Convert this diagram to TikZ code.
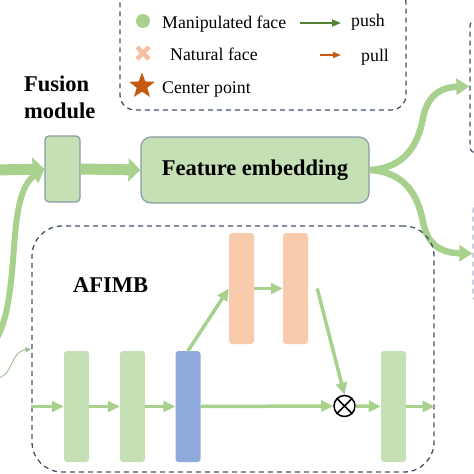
\documentclass[tikz,border=0pt]{standalone}
\usepackage{fontspec}
\setmainfont{Liberation Serif}
\usetikzlibrary{arrows.meta,shapes.geometric}
\definecolor{lgreen}{HTML}{A9D18E}
\definecolor{bgreen}{HTML}{C5E0B4}
\definecolor{bborder}{HTML}{8A9AA8}
\definecolor{bblue}{HTML}{8FAADC}
\definecolor{borange}{HTML}{F8CBAD}
\definecolor{xorange}{HTML}{F5BE9F}
\definecolor{dashblue}{HTML}{44546A}
\definecolor{paleblue}{HTML}{ADB9CA}
\definecolor{dgreen}{HTML}{548235}
\definecolor{porange}{HTML}{C55A11}
\begin{document}
\begin{tikzpicture}[x=1pt,y=-1pt,
  blk/.style={rounded corners=3pt, minimum width=25pt, minimum height=111pt, inner sep=0pt},
  flow/.style={draw=lgreen, line width=3.5pt, -{Triangle[length=12pt,width=11pt]}},
  fat/.style={draw=lgreen, line width=11pt, -{Triangle[length=12pt,width=23pt]}},
  branch/.style={draw=lgreen, line width=6.5pt, -{Triangle[length=13pt,width=16pt]}},
  frame/.style={draw=dashblue, line width=1.3pt, dash pattern=on 5pt off 4pt, inner sep=0pt},
  lab/.style={inner sep=0pt, anchor=base west, font=\fontsize{17.8}{20}\selectfont},
  big/.style={font=\bfseries\fontsize{22.5}{27}\selectfont}]
      \path[use as bounding box, clip] (0,0) rectangle (474,474);
      % legend
      \node[frame, rounded corners=15pt, minimum width=286pt, minimum height=122pt] (leg) at (263,49) {};
      \fill[lgreen] (143,21) circle (7);
      \draw[xorange, line width=4.5pt] (137,47) -- (149,59) (137,59) -- (149,47);
      \node[star, star points=5, star point ratio=2.4, fill=porange, minimum size=27pt, inner sep=0pt] (st) at (142,86) {};
      \node[lab] (mf) at (162,28) {Manipulated face};
      \node[lab] (nf) at (170,60) {Natural face};
      \node[lab] (cp) at (162,93) {Center point};
      \node[lab] (ps) at (351,26) {push};
      \node[lab] (pl) at (361,61) {pull};
      \draw[dgreen, line width=1.8pt, -{Triangle[length=9pt,width=7pt]}] (300,23) -- (341,23);
      \draw[porange, line width=1.5pt, -{Triangle[length=8pt,width=6pt]}] (320,55) -- (341,55);
      % fusion and embedding
      \node[big, inner sep=0pt, anchor=north west, align=left] (fl) at (24,75.5) {Fusion\\module};
      \node[draw=bborder, fill=bgreen, rounded corners=4pt, line width=1.2pt, minimum width=35pt, minimum height=66pt] (fus) at (62.5,169) {};
      \node[big, draw=bborder, fill=bgreen, rounded corners=10pt, line width=1.2pt, minimum width=228pt, minimum height=66pt] (emb) at (255,170) {Feature embedding};
      \node[frame, rounded corners=6pt, minimum width=60pt, minimum height=133pt] (cls) at (500,86.5) {};
      \node[frame, draw=paleblue, rounded corners=6pt, minimum width=60pt, minimum height=97pt] (rec) at (503,253.5) {};
      \coordinate (in) at (-5,170);
      \coordinate (low) at (-3,338);
      \coordinate (thin) at (-2,378);
      \draw[fat] (in) -- (fus.west);
      \draw[fat] (fus.east) -- (emb.west);
      \draw[branch] (emb.east) .. controls (405,168) and (418,145) .. (423,118) .. controls (428,92) and (445,87) .. (cls.west);
      \draw[branch] (emb.east) .. controls (405,172) and (418,195) .. (423,222) .. controls (428,248) and (445,253) .. (rec.west);
      \draw[branch, line width=6pt] (low) .. controls (12,310) and (12,262) .. (16,225) .. controls (20,190) and (28,180) .. (fus.west);
      % AFIMB
      \node[frame, rounded corners=30pt, minimum width=402pt, minimum height=246pt] (afimb) at (233,349) {};
      \draw[draw={rgb,255:red,157;green,191;blue,143}, line width=0.9pt, -{Triangle[length=6pt,width=5pt]}] (thin) .. controls (14,374) and (10,352) .. (afimb.west);
      \node[big, inner sep=0pt, anchor=base west] (afl) at (73,292) {AFIMB};
      \node[blk, fill=bgreen] (g1) at (76.5,406.5) {};
      \node[blk, fill=bgreen] (g2) at (132.5,406.5) {};
      \node[blk, fill=bblue] (bl) at (188,406.5) {};
      \node[blk, fill=borange] (o1) at (241.5,288.5) {};
      \node[blk, fill=borange] (o2) at (295.5,288.5) {};
      \node[blk, fill=bgreen] (g3) at (393.5,406.5) {};
      \node[circle, draw, line width=1.5pt, minimum size=21pt, inner sep=0pt] (mul) at (344.5,406) {};
      \draw[line width=1.5pt] (mul.45) -- (mul.225) (mul.135) -- (mul.315);
      \draw[flow] (afimb.west |- g1.west) -- (g1.west);
      \draw[flow] (g1.east) -- (g2.west);
      \draw[flow] (g2.east) -- (bl.west);
      \draw[flow] (bl.east) -- (mul.west);
      \draw[flow] (mul.east) -- (g3.west);
      \draw[flow] (g3.east) -- (afimb.east |- g3.east);
      \draw[flow] (bl.north) -- (o1.west);
      \draw[flow] (o1.east) -- (o2.west);
      \draw[flow] ([xshift=9pt]o2.east) -- (mul.north);
\end{tikzpicture}
\end{document}
